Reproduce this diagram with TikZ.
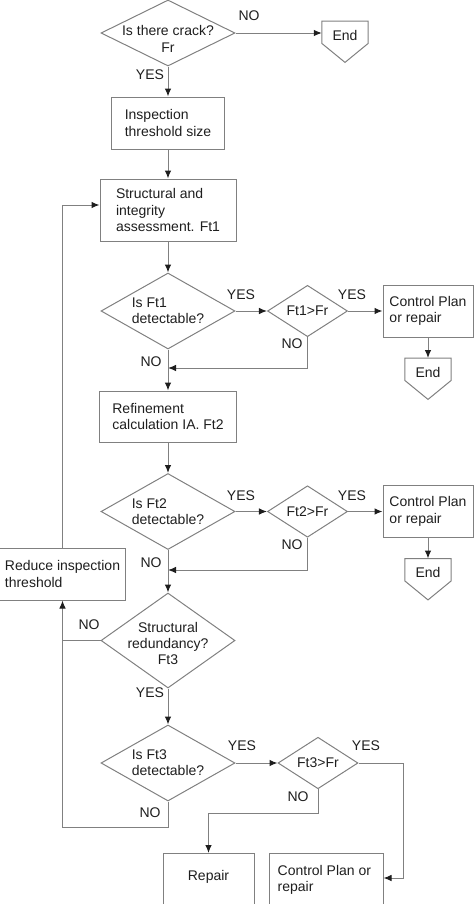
\documentclass[tikz,border=0pt]{standalone}
\usepackage{fontspec}
\setmainfont{Liberation Sans}
\usetikzlibrary{arrows.meta,shapes.geometric}
\definecolor{linegray}{RGB}{128,128,128}
\definecolor{inkgray}{RGB}{30,30,30}

\tikzset{
  flow/.style={draw=linegray, line width=1bp, -{Latex[length=8bp,width=6.5bp,color=inkgray]}},
  wire/.style={draw=linegray, line width=1bp},
  block/.style={rectangle, draw=linegray, line width=1bp, align=left, text=inkgray, inner sep=0pt},
  decision/.style={diamond, draw=linegray, line width=1bp, minimum width=134bp, minimum height=76bp, inner sep=0pt},
  check/.style={diamond, draw=linegray, line width=1bp, minimum width=80bp, minimum height=47bp, inner sep=0pt, text=inkgray},
  endsig/.style={rectangle, minimum width=46bp, minimum height=22bp, inner sep=0pt, text=inkgray,
    append after command={\pgfextra{\draw[wire] ([yshift=3bp]\tikzlastnode.north west) -- ([yshift=3bp]\tikzlastnode.north east)
      -- ([yshift=3bp]\tikzlastnode.south east) -- ([yshift=-16bp]\tikzlastnode.south) -- ([yshift=3bp]\tikzlastnode.south west) -- cycle;}}},
  tag/.style={text=inkgray, inner sep=0pt},
}

\begin{document}
\begin{tikzpicture}[x=1bp, y=-1bp, font=\fontsize{14bp}{16.3bp}\selectfont]
    \clip (0,0) rectangle (474,904);

    % top of the chart
    \node[decision, minimum height=66bp, label={[tag, align=center, yshift=-6bp]center:Is there crack?\\Fr}] (crack) at (168,33) {};
    \node[endsig, anchor=north] (end0) at (345,24) {End};
    \node[block, minimum width=113bp, minimum height=52bp] (insp) at (168,123) {Inspection\\threshold size};
    \node[block, minimum width=136bp, minimum height=62bp] (assess) at (168,210) {Structural and\\integrity\\assessment. Ft1};
    \node[block, minimum width=137bp, minimum height=51bp] (refine) at (168,416.5) {Refinement\\calculation IA. Ft2};
    \node[decision, minimum height=95bp, label={[tag, align=center, yshift=-3bp]center:Structural\\redundancy?\\Ft3}] (redund) at (168,640.5) {};
    \node[block, minimum width=125bp, minimum height=52bp] (reduce) at (62.5,574) {Reduce inspection\\threshold};

    \draw[flow] (crack) -- (crack.east -| end0.west);
    \draw[flow] (crack) -- (insp);
    \draw[flow] (insp) -- (assess);
    \node[tag] (no0) at (249,16) {NO};
    \node[tag] (yes0) at (150,75) {YES};

    % the two detection rows
    \foreach \i/\y/\m/\nxt in {1/311/368/refine, 2/511.5/570/redund} {
        \node[decision, label={[tag, align=left]center:Is Ft\i\\detectable?}] (det\i) at (168,\y) {};
        \node[check] (cmp\i) at (307.5,\y) {Ft\i>Fr};
        \node[block, minimum width=90bp, minimum height=52bp] (plan\i) at (428,\y) {Control Plan\\or repair};
        \node[endsig, anchor=north] (end\i) at (428,\y+50) {End};
        \coordinate (join\i) at (168,\m);

        \draw[flow] (det\i) -- (cmp\i);
        \draw[flow] (cmp\i) -- (plan\i);
        \draw[flow] (plan\i) -- ([yshift=3bp]end\i.north);
        \draw[flow] (cmp\i.south) |- (join\i);
        \draw[flow] (det\i) -- (\nxt);

        \node[tag] (yesa\i) at (241,\y-16) {YES};
        \node[tag] (yesb\i) at (352,\y-16) {YES};
        \node[tag] (noa\i) at (292,\y+33) {NO};
        \node[tag] (nob\i) at (151,\y+51) {NO};
    }
    \draw[flow] (assess) -- (det1);
    \draw[flow] (refine) -- (det2);

    % redundancy and last row
    \node[decision, label={[tag, align=left]center:Is Ft3\\detectable?}] (det3) at (168,763) {};
    \node[check] (cmp3) at (318,763) {Ft3>Fr};
    \node[block, minimum width=91bp, minimum height=120bp, anchor=north, label={[tag, anchor=center, yshift=-24bp]north:Repair}] (repair) at (208.5,853) {};
    \node[block, minimum width=114bp, minimum height=120bp, anchor=north, label={[tag, align=left, anchor=north west, xshift=9bp, yshift=-12bp]north west:Control Plan or\\repair}] (plan3) at (326,853) {};
    \coordinate (up) at (62.5,205);
    \coordinate (back) at (62.5,827);
    \coordinate (fork) at (208.5,813);
    \coordinate (turn) at (403,878);

    \draw[flow] (reduce.north) -- (up) -- (up -| assess.west);
    \draw[wire] (redund.west) -- (redund.west -| reduce.south);
    \draw[flow] (redund) -- (det3);
    \draw[flow] (det3) -- (cmp3);
    \draw[flow] (det3.south) |- (back) -- (reduce.south);
    \draw[flow] (cmp3.south) |- (fork) -- (repair.north);
    \draw[flow] (cmp3) -| (turn) -- (turn -| plan3.east);

    \node[tag] (no4) at (89,625) {NO};
    \node[tag] (yes4) at (150,693) {YES};
    \node[tag] (yes5) at (242,746) {YES};
    \node[tag] (yes6) at (366,746) {YES};
    \node[tag] (no5) at (298,797) {NO};
    \node[tag] (no6) at (150,813) {NO};
\end{tikzpicture}
\end{document}
